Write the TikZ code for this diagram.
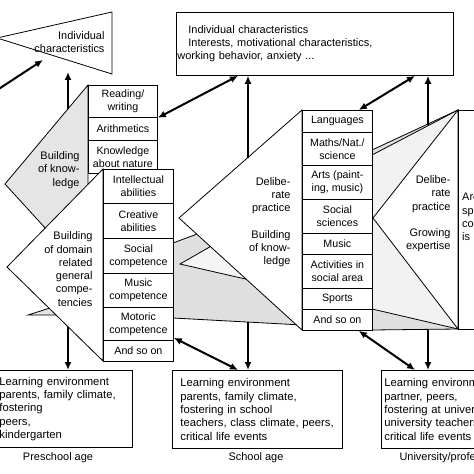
\documentclass[tikz,border=0pt]{standalone}
\usepackage{fontspec}
\setmainfont{Liberation Sans}
\usetikzlibrary{arrows.meta}

\begin{document}
\begin{tikzpicture}[x=1bp,y=-1bp,
  every node/.style={font=\fontsize{11}{13.3}\selectfont},
  boxline/.style={draw, line width=0.8bp, fill=white},
  cell/.style={boxline, anchor=north west, inner sep=0pt, align=center, font=\fontsize{10.7}{13}\selectfont},
  envbox/.style={boxline, anchor=north west, align=left, inner ysep=0pt, font=\fontsize{11.3}{13.4}\selectfont},
  chev/.style={draw, line width=0.8bp},
  arr/.style={line width=2bp, -{Latex[length=8bp,width=7bp]}},
  darr/.style={line width=2bp, {Latex[length=8bp,width=7bp]}-{Latex[length=8bp,width=7bp]}},
  lbl/.style={align=right, anchor=east}]
\useasboundingbox (0,0) rectangle (474,474);
\clip (0,0) rectangle (474,474);

% individual characteristics
\draw[chev, fill=white] (-3,38) -- (112,12) -- (112,74) -- cycle;
\node[lbl] (ictri) at (108,42) {Individual\\characteristics};
\node[boxline, anchor=north west, align=left, text width=253bp, inner xsep=12bp, minimum height=63bp] (indiv) at (176,12)
  {Individual characteristics\\Interests, motivational characteristics,\\\hspace*{-11bp}working behavior, anxiety ...};

% university / profession
\draw[chev, fill=gray!25] (372,150) -- (458,110) -- (458,329) -- (372,330) -- cycle;
\draw[chev, fill=gray!10] (372,155) -- (458,110) -- (458,329) -- (372,309) -- cycle;
\draw[chev, fill=white] (458,110) -- (373,218) -- (458,329) -- cycle;
\node[lbl] (dp2) at (454,214) {Delibe-\\rate\\practice\\[13.3bp]Growing\\expertise};
\node[boxline, anchor=north west, minimum width=40bp, minimum height=219bp] (unicol) at (458,110) {};
\node[anchor=west, align=left, inner xsep=0pt] (unitxt) at (462,217) {Area-\\specific\\compe-\\is};

% school
\draw[chev, fill=gray!25] (173,243) -- (302,195) -- (302,325) -- (173,318) -- cycle;
\draw[chev, fill=gray!8] (180,264) -- (302,194) -- (302,292) -- cycle;
\draw[chev, fill=white] (302,110) -- (179,218) -- (302,330) -- cycle;
\node[lbl] (dp1) at (294,222) {Delibe-\\rate\\practice\\[13.3bp]Building\\of know-\\ledge};
\foreach \nm/\y/\h/\lab in {la/110/22/Languages, ma/132/33/{Maths/Nat./\\science},
    at/165/34/{Arts (paint-\\ing, music)}, ss/199/34/{Social\\sciences}, mu/233/21/Music,
    as/254/34/{Activities in\\social area}, sp/288/21/Sports, an/309/21/And so on}
  \node[cell, minimum width=70bp, minimum height=\h bp] (\nm) at (302,\y) {\lab};

% preschool
\draw[chev, fill=gray!20] (88,85) -- (5,184) -- (88,275) -- cycle;
\node[lbl] (bk1) at (83,170) {Building\\of know-\\ledge};
\foreach \nm/\y/\h/\lab in {rw/85/32/{Reading/\\writing}, ar/117/23/Arithmetics, kn/140/33/{Knowledge\\about nature}}
  \node[cell, minimum width=69bp, minimum height=\h bp] (\nm) at (88,\y) {\lab};
\draw[chev, fill=gray!20] (28,315) -- (103,291) -- (103,315) -- cycle;
\draw[chev, fill=white] (103,169) -- (7,267) -- (103,361) -- cycle;
\node[lbl] (bk2) at (96,269) {Building\\of domain\\related\\general\\compe-\\tencies};
\foreach \nm/\y/\h/\lab in {ia/169/34/{Intellectual\\abilities}, ca/203/35/{Creative\\abilities},
    sc/238/35/{Social\\competence}, mc/273/34/{Music\\competence}, mo/307/33/{Motoric\\competence},
    ao/340/21/And so on}
  \node[cell, minimum width=70bp, minimum height=\h bp] (\nm) at (103,\y) {\lab};

% learning environments
\node[envbox, text width=124bp, inner xsep=9bp, minimum height=77bp] (envpre) at (-10,370)
  {Learning environment\\parents, family climate,\\fostering\\peers,\\kindergarten};
\node[envbox, text width=154bp, inner xsep=8bp, minimum height=78bp] (envschool) at (172,370)
  {Learning environment\\parents, family climate,\\fostering in school\\teachers, class climate, peers,\\critical life events};
\node[envbox, text width=150bp, inner xsep=3bp, minimum height=78bp] (envuni) at (381,370)
  {Learning environment\\partner, peers,\\fostering at university\\university teachers\\critical life events};
\node (age1) at (58,458) {Preschool age};
\node (age2) at (256,458) {School age};
\node[anchor=west] (age3) at (396,458) {University/professional age};

% arrows
\coordinate (lft) at (-12,96);
\coordinate (ic1) at (43,60);
\coordinate (ic2) at (68,72);
\coordinate (k1) at (68,109);
\coordinate (k2) at (248,158);
\coordinate (k3) at (428,125);
\coordinate (k4) at (68,327);
\coordinate (k5) at (248,322);
\coordinate (k6) at (428,330);
\draw[arr] (lft) -- (ic1);
\draw[arr] (k1) -- (ic2);
\draw[arr] (k2) -- (k2 |- indiv.south);
\draw[arr] (k3) -- (k3 |- indiv.south);
\draw[darr] (rw.south east) -- ([xshift=62bp]indiv.south west);
\draw[darr] ([xshift=-14bp]la.north east) -- ([xshift=239bp]indiv.south west);
\draw[arr] (k4) -- (k4 |- envpre.north);
\draw[arr] (k5) -- (k5 |- envschool.north);
\draw[arr] (k6) -- (k6 |- envuni.north);
\draw[darr] ([yshift=3bp]mo.south east) -- ([xshift=66bp]envschool.north west);
\draw[darr] ([xshift=-14bp]an.south east) -- ([xshift=34bp]envuni.north west);
\end{tikzpicture}
\end{document}
